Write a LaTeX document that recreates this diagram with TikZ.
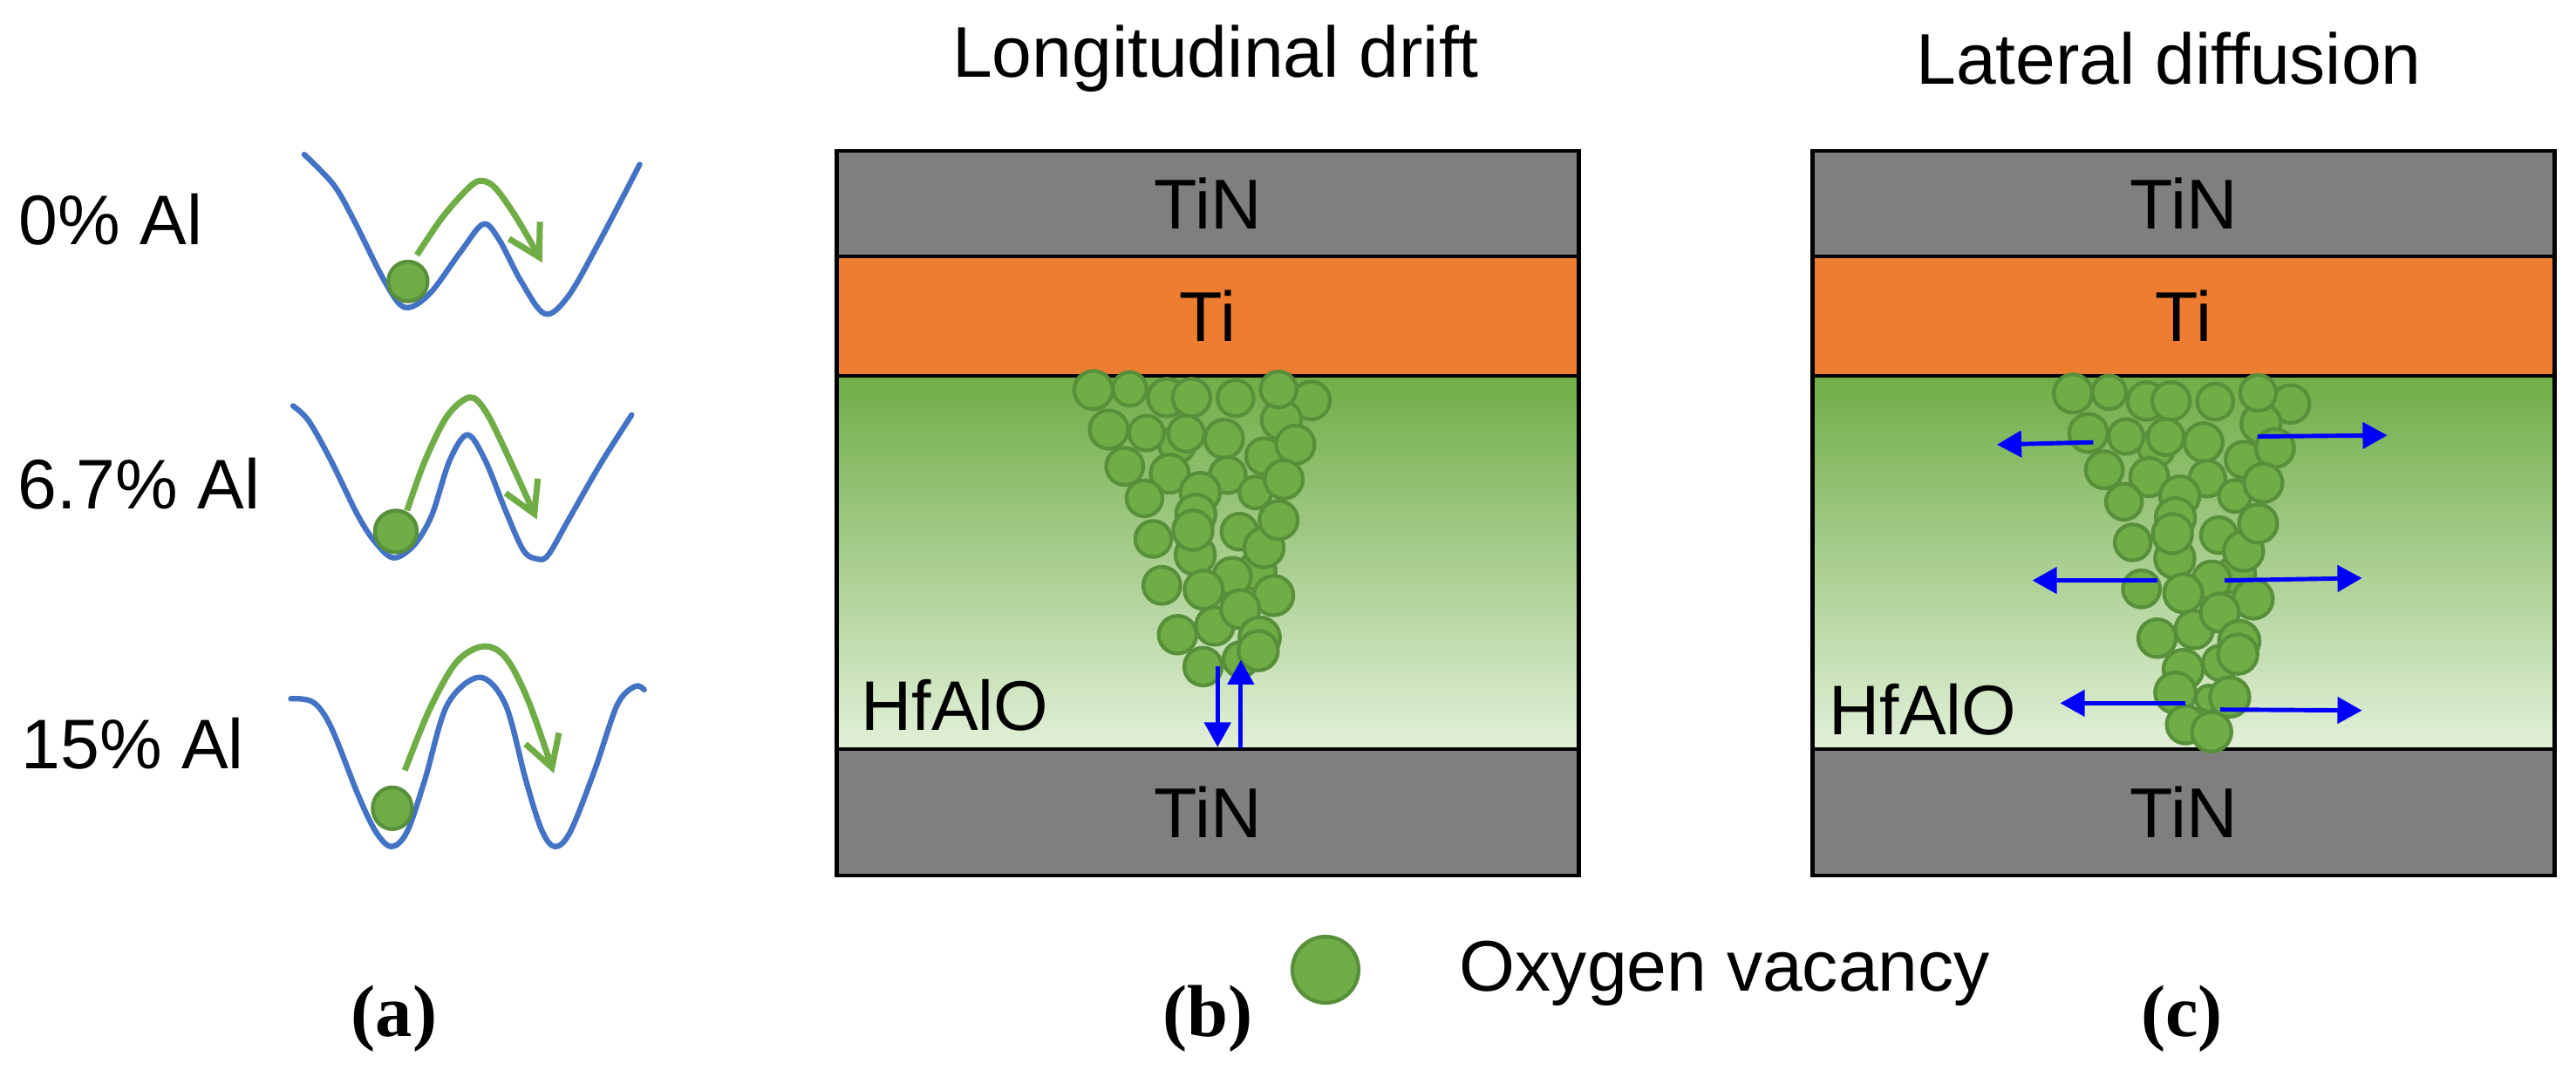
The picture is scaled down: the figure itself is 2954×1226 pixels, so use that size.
\documentclass[tikz,border=0pt]{standalone}
\usepackage{fontspec}
\setmainfont{Liberation Sans}
\newfontfamily\capfont{Liberation Serif}
\usetikzlibrary{arrows.meta}
\definecolor{tingray}{HTML}{7F7F7F}
\definecolor{tiorange}{HTML}{ED7D31}
\definecolor{oxgreen}{HTML}{70AD47}
\definecolor{oxedge}{HTML}{588F3A}
\definecolor{hflight}{HTML}{E2F0D9}
\definecolor{wellblue}{HTML}{4472C4}
\tikzset{
  lbl/.style={inner sep=0pt, font=\fontsize{22.9}{28}\selectfont},
  headlbl/.style={inner sep=0pt, font=\fontsize{23.4}{28}\selectfont},
  caplbl/.style={inner sep=0pt, font=\fontsize{24}{28}\selectfont\capfont\bfseries},
  layer/.style={draw=black, line width=1.3pt, minimum width=8.5cm, inner sep=0pt, font=\fontsize{23}{28}\selectfont},
  vacancy/.style={fill=oxgreen, draw=oxedge, line width=1.2pt},
  well/.style={draw=wellblue, line width=1.8pt, line cap=round},
  hop/.style={draw=oxgreen, line width=2pt, -{Straight Barb[length=10pt,width=11.5pt]}},
  drift/.style={draw=blue, line width=1.4pt, -{Triangle[length=8pt,width=8.5pt]}}
}
% cluster of vacancies, coordinates as in a 3x crop
\newcommand{\cluster}{%
  \foreach \cx/\cy/\cr in {312/142/66,437/138/58,565/168/65,650/168/65,802/170/62,1062/178/65,
      960/245/68,950/140/62,365/278/66,600/330/62,495/290/60,632/292/62,762/310/66,900/370/62,1008/330/66,
      420/405/64,575/430/66,775/435/62,870/495/55,968/450/66,680/495/68,488/515/62,
      663/710/68,665/570/68,655/625/68,518/655/62,815/630/62,875/765/65,900/685/68,950/590/66,
      790/785/65,548/815/64,692/830/66,933/850/68,730/955/65,818/897/66,602/985/65,
      885/995/70,690/1095/65,820/1070/60,880/1040/68}
    \draw[vacancy] (\cx,\cy) circle (\cr);
}
\begin{document}
\begin{tikzpicture}[x=0.01cm, y=-0.01cm]
  \useasboundingbox (0,0) rectangle (2954,1226);
  \fill[white] (0,0) rectangle (2954,1226);

  % (a) the three wells
  \node[lbl, anchor=base west] (al0) at (21,280) {0\% Al};
  \node[lbl, anchor=base west] (al67) at (20,583) {6.7\% Al};
  \node[lbl, anchor=base west] (al15) at (24,881) {15\% Al};
  \begin{scope}[shift={(0,140)}, x=0.00513cm, y=-0.00571cm]
    \draw[well] plot[smooth, tension=0.55] coordinates {(680,65) (745,125) (790,195) (860,320) (905,372) (960,345)
      (1030,260) (1080,205) (1115,235) (1165,320) (1218,385) (1270,350) (1340,240) (1430,85)};
    \draw[well] plot[smooth, tension=0.55] coordinates {(655,570) (690,600) (740,680) (800,790) (840,845) (880,875)
      (925,850) (965,790) (1005,680) (1045,628) (1085,680) (1130,780) (1170,860) (1200,877) (1225,870) (1270,800)
      (1340,690) (1412,588)};
    \draw[well] plot[smooth, tension=0.55] coordinates {(650,1158) (700,1165) (740,1215) (800,1350) (840,1425) (875,1455)
      (910,1425) (950,1320) (1000,1170) (1072,1115) (1130,1170) (1175,1320) (1210,1420) (1240,1455) (1275,1425)
      (1330,1300) (1380,1170) (1420,1133) (1440,1140)};
    \draw[hop] plot[smooth, tension=0.55] coordinates {(932,267) (990,190) (1050,130) (1078,118) (1110,135) (1160,200) (1212,282)};
    \draw[hop] plot[smooth, tension=0.55] coordinates {(910,780) (950,680) (1000,590) (1050,553) (1085,580) (1130,660) (1200,798)};
    \draw[hop] plot[smooth, tension=0.55] coordinates {(905,1302) (960,1180) (1020,1085) (1080,1053) (1130,1075) (1180,1160) (1238,1308)};
    \draw[vacancy] (912,320) ellipse (44 and 40);
    \draw[vacancy] (885,822) ellipse (47 and 42);
    \draw[vacancy] (877,1378) ellipse (44 and 42);
  \end{scope}
  \node[caplbl] (capa) at (452,1168) {(a)};

  % (b) and (c) stacks
  \foreach \dx/\nm in {0/b,1119/c} {
    \node[layer, fill=tingray, minimum height=1.21cm] (tintop\nm) at (1385+\dx,233.5) {TiN};
    \node[layer, top color=oxgreen, bottom color=hflight, minimum height=4.28cm] (hf\nm) at (1385+\dx,645) {};
    \node[layer, fill=tiorange, minimum height=1.37cm] (ti\nm) at (1385+\dx,362.5) {Ti};
    \node[layer, fill=tingray, minimum height=1.45cm] (tinbot\nm) at (1385+\dx,931.5) {TiN};
  }
  \node[lbl, anchor=base west] (hfalob) at (987,837) {HfAlO};
  \node[lbl, anchor=base west] (hfaloc) at (2097,842) {HfAlO};
  \node[headlbl] (titleb) at (1394,67) {Longitudinal drift};
  \node[headlbl] (titlec) at (2487,67) {Lateral diffusion};

  \begin{scope}[shift={(1150,400)}, x=0.00333cm, y=-0.00333cm]
    \cluster
    \draw[drift] (740,1095) -- (740,1372);
    \draw[drift] (820,1375) -- (820,1072);
  \end{scope}
  \begin{scope}[shift={(2250,400)}, x=0.00333cm, y=-0.00333cm]
    \begin{scope}[shift={(70,12)}]
      \cluster
    \end{scope}
    \foreach \cx/\cy/\cr in {762/1105/68,850/1205/45,735/1185/70,922/1200/68,770/1295/65,860/1320/68}
      \draw[vacancy] (\cx,\cy) circle (\cr);
    \draw[drift] (452,322) -- (120,330);
    \draw[drift] (1018,302) -- (1465,298);
    \draw[drift] (672,798) -- (242,798);
    \draw[drift] (905,798) -- (1378,790);
    \draw[drift] (770,1221) -- (338,1221);
    \draw[drift] (890,1243) -- (1378,1246);
  \end{scope}

  % legend and captions
  \draw[vacancy] (1520,1112) circle (38);
  \node[headlbl, anchor=base west] (oxlabel) at (1673,1136) {Oxygen vacancy};
  \node[caplbl] (capb) at (1385,1168) {(b)};
  \node[caplbl] (capc) at (2502,1168) {(c)};
\end{tikzpicture}
\end{document}
